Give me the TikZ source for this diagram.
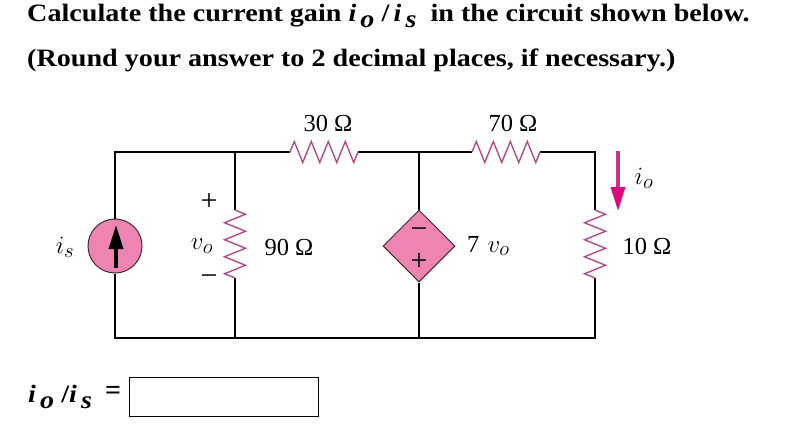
\documentclass[tikz,border=0pt]{standalone}
\usepackage{fontspec}
\usepackage{amsmath}
\setmainfont{Liberation Serif}
\newfontfamily\headfont[FakeStretch=1.125]{Liberation Serif}
\usetikzlibrary{arrows.meta, shapes.geometric, decorations.pathmorphing}
\definecolor{srcpink}{HTML}{EE84B2}
\definecolor{respink}{HTML}{B84A8C}
\definecolor{arrowpink}{HTML}{E0087E}
\newcommand{\bsub}[1]{\,\raisebox{-6pt}{\textit{#1}}}
\newcommand{\sz}[1]{\fontsize{#1}{#1}\selectfont}
\tikzset{
  wire/.style={line width=1.8pt},
  resistor/.style={line width=1.4pt, draw=respink, decorate, decoration={zigzag, segment length=17pt, amplitude=10.5pt}},
  srcshape/.style={fill=srcpink, draw=black!70!srcpink, line width=1pt, inner sep=0pt},
  lab/.style={inner sep=0pt, font=\sz{24.5}},
  mathlab/.style={inner sep=0pt, font=\sz{28}},
  sign/.style={inner sep=0pt, font=\sz{30}},
  heading/.style={inner sep=0pt, anchor=base west, font=\sz{25}\headfont\bfseries},
}
\begin{document}
\begin{tikzpicture}[x=1pt, y=-1pt]
\useasboundingbox (0,0) rectangle (794,432);
\node[heading](title) at (27,21) {Calculate the current gain \textit{i}\bsub{o} /\,\textit{i}\bsub{s} \ in the circuit shown below.};
\node[heading](note) at (27,66.5) {(Round your answer to 2 decimal places, if necessary.)};
%
\coordinate(tl) at (115,152);
\coordinate(tm) at (235,152);
\coordinate(tc) at (419,152);
\coordinate(tr) at (595,152);
\coordinate(bl) at (115,338);
\coordinate(bm) at (235,338);
\coordinate(bc) at (419,338);
\coordinate(br) at (595,338);
\coordinate(rthirtya) at (290,152);
\coordinate(rthirtyb) at (358,152);
\coordinate(rseventya) at (472,152);
\coordinate(rseventyb) at (540,152);
\coordinate(rninetya) at (235,210);
\coordinate(rninetyb) at (235,278);
\coordinate(rtena) at (595,210);
\coordinate(rtenb) at (595,278);
\coordinate(headtop) at (618,151);
\coordinate(headtip) at (618,211);
\coordinate(srctail) at (116,268);
\coordinate(srctip) at (116,225);
%
\node[srcshape, circle, minimum size=54pt](src) at (115,246) {};
\node[srcshape, diamond, minimum width=72pt, minimum height=72pt](dep) at (419,246) {};
%
\draw[wire] (src) -- (tl) -- (rthirtya);
\draw[wire] (rthirtyb) -- (rseventya);
\draw[wire] (rseventyb) -- (tr) -- (rtena);
\draw[wire] (rtenb) -- (br) -- (bl) -- (src);
\draw[wire] (tm) -- (rninetya);
\draw[wire] (rninetyb) -- (bm);
\draw[wire] (tc) -- (dep);
\draw[wire] (dep) -- (bc);
%
\draw[resistor] (rthirtya) -- (rthirtyb);
\draw[resistor] (rseventya) -- (rseventyb);
\draw[resistor] (rninetya) -- (rninetyb);
\draw[resistor] (rtena) -- (rtenb);
%
\draw[line width=3.5pt, -{Triangle[length=24pt, width=14pt]}] (srctail) -- (srctip);
\draw[line width=3.2pt, draw=respink!70!arrowpink, -{Triangle[length=24pt, width=14pt, color=arrowpink]}] (headtop) -- (headtip);
%
\node[lab](lthirty) at (328,123) {30 Ω};
\node[lab](lseventy) at (513,123) {70 Ω};
\node[lab](lninety) at (289,247) {90 Ω};
\node[lab](lten) at (647,246) {10 Ω};
\node[lab, anchor=west](ldep) at (467,246) {7\hspace{2pt} \sz{28}$v_o$};
\node[mathlab](lvo) at (202,246) {$v_o$};
\node[mathlab](lis) at (65,247) {$i_s$};
\node[mathlab](lio) at (644,178) {$i_o$};
\node[sign](vplus) at (209,202) {+};
\node[sign](vminus) at (209,280) {\textminus};
\node[sign](dminus) at (419,233) {\textminus};
\node[sign](dplus) at (419,262) {+};
%
\node[heading](ans) at (28,402) {\textit{i}\bsub{o} /\textit{i}\bsub{s}};
\node[inner sep=0pt, font=\sz{28}\bfseries](eq) at (113,393) {=};
\node[draw, line width=1pt, minimum width=189pt, minimum height=39pt, inner sep=0pt, anchor=north west](box) at (128.5,377) {};
\end{tikzpicture}
\end{document}
